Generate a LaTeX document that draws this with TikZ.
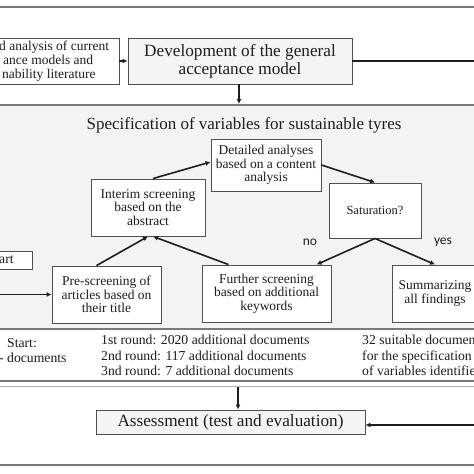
\documentclass[tikz,border=0pt]{standalone}
\usepackage{fontspec}
\setmainfont{Liberation Serif}
\newfontfamily\sansyn{Carlito}
\usetikzlibrary{arrows.meta}
\definecolor{panel}{HTML}{F3F3F3}
\definecolor{boxgray}{HTML}{F4F4F4}
\definecolor{sep}{HTML}{7A7A7A}
\definecolor{edge}{HTML}{505050}
\definecolor{ink}{HTML}{1E1E1E}
\tikzset{
  box/.style={draw=edge, line width=0.9pt, fill=white, minimum width=#1, inner sep=0pt, align=center,
     font=\fontsize{13.5}{13.5}\selectfont, text=ink},
  graybox/.style={box=#1, fill=boxgray},
  conn/.style={draw=ink, line width=1.6pt, -{Latex[length=5pt,width=5pt]}},
  sepline/.style={draw=sep, line width=1.1pt},
  plain/.style={font=\fontsize{13.7}{15.5}\selectfont, text=ink, inner sep=0pt},
  yn/.style={font=\sansyn\fontsize{13.5}{14}\selectfont, text=ink, inner sep=0pt}
}
\begin{document}
\begin{tikzpicture}[x=1pt,y=-1pt]
\useasboundingbox (0,0) rectangle (474,474);
\clip (0,0) rectangle (474,474);
\fill[white] (0,0) rectangle (474,474);
% panels
\fill[panel] (0,105) rectangle (474,329);
\draw[sepline] (0,7) -- (474,7);
\draw[sepline] (0,105) -- (474,105);
\draw[sepline] (0,329) -- (474,329);
\draw[sepline] (0,381) -- (474,381);
\draw[sepline, draw=sep!60] (0,386.5) -- (474,386.5);
\draw[sepline] (0,465) -- (474,465);
% top row
\node[box=124pt, minimum height=46pt] (ana) at (57,61) {};
\node[plain, anchor=west, align=left, font=\fontsize{13.5}{13.8}\selectfont] (anat) at (-1,61)
  {d analysis of current\\\hspace*{4pt}ance models and\\\hspace*{3pt}nability literature};
\node[graybox=224pt, minimum height=46pt, font=\fontsize{17.2}{18}\selectfont] (dev) at (240,61)
  {Development of the general\\acceptance model};
\coordinate (rtop) at (474,61);
\draw[conn] (ana.east) -- (dev.west);
\draw[draw=ink, line width=2.4pt] (dev.east) -- (rtop);
% middle panel
\node[plain, font=\fontsize{17}{18}\selectfont] (title) at (244,125)
  {Specification of variables for sustainable tyres};
\node[box=110pt, minimum height=52pt] (det) at (266,165)
  {Detailed analyses\\based on a content\\analysis};
\node[box=114pt, minimum height=57pt] (int) at (148,207.5)
  {Interim screening\\based on the\\abstract};
\node[box=92pt, minimum height=55pt, font=\fontsize{12.5}{13.5}\selectfont] (sat) at (375,210.5) {Saturation?};
\node[box=129pt, minimum height=57pt] (fur) at (266.5,293.5)
  {Further screening\\based on additional\\keywords};
\node[box=86pt, minimum height=57pt] (sum) at (435,293.5)
  {Summarizing\\all findings};
\node[box=109pt, minimum height=57pt] (pre) at (106.5,294.5)
  {Pre-screening of\\articles based on\\their title};
\node[box=64pt, minimum height=18pt] (start) at (0,260) {};
\node[plain, anchor=west] (startt) at (-1,260) {art};
\node[yn] (no) at (310,242) {no};
\node[yn] (yes) at (443,242) {yes};
\coordinate (lin) at (0,294.5);
\draw[conn] (lin) -- (pre.west);
\draw[conn] ([xshift=-10pt]pre.north) -- ([xshift=0pt]int.south);
\draw[conn] ([xshift=-38pt]fur.north) -- ([xshift=5pt]int.south);
\draw[conn] ([xshift=5pt]int.north) -- ([yshift=3pt]det.west);
\draw[conn] ([yshift=0pt]det.east) -- (sat.north);
\draw[conn] (sat.south) -- ([xshift=50pt]fur.north);
\draw[conn] (sat.south) -- (sum.north);
\draw[conn] ([xshift=-1pt]dev.south) -- ([xshift=-1pt]dev.south |- 0,104);
% bottom text
\node[plain, align=center] (b1) at (22,343) {Start:};
\node[plain, anchor=west] (b2) at (-1,358) {- documents};
\node[plain, anchor=north west, align=left] (b3) at (101,335)
  {1st round: 2020 additional documents\\2nd round: 117 additional documents\\3nd round: 7 additional documents};
\node[plain, anchor=north west, align=left] (b4) at (362,335)
  {32 suitable documents\\for the specification\\of variables identified};
% assessment
\node[graybox=269pt, minimum height=24pt, font=\fontsize{17.2}{18}\selectfont] (ass) at (230.5,422)
  {Assessment (test and evaluation)};
\coordinate (atop) at (238,387);
\coordinate (aright) at (474,425);
\draw[conn] (atop) -- (atop |- ass.north);
\draw[conn] (aright) -- (aright -| ass.east);
\end{tikzpicture}
\end{document}
